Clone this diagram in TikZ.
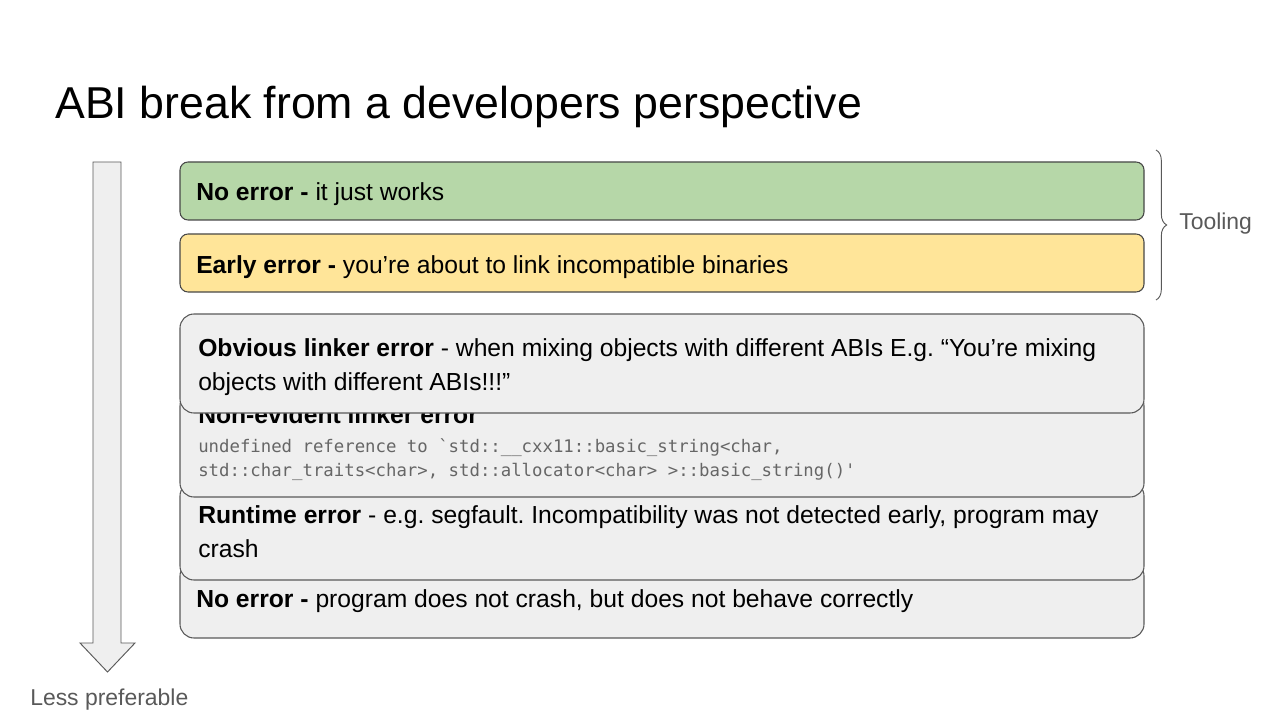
\documentclass[tikz,border=0pt]{standalone}
\usepackage{fontspec}
\setmainfont{Liberation Sans}
\setmonofont{DejaVu Sans Mono}
\usetikzlibrary{decorations.pathreplacing}
\frenchspacing

\definecolor{okgreen}{HTML}{B6D7A8}
\definecolor{warnyellow}{HTML}{FFE599}
\definecolor{boxgray}{HTML}{EFEFEF}
\definecolor{edgegray}{HTML}{595959}
\definecolor{codegray}{HTML}{666666}

\tikzset{
  smallbox/.style={draw=edgegray!80!black, line width=0.8pt, rounded corners=6pt},
  bigbox/.style={draw=edgegray, fill=boxgray, line width=0.8pt, rounded corners=10.5pt},
  boxtext/.style={anchor=base west, inner sep=0pt, font=\fontsize{18.5}{25.5}\selectfont},
  codetext/.style={anchor=base west, inner sep=0pt, text=codegray, font=\fontsize{13}{18}\selectfont\ttfamily},
  sidetext/.style={inner sep=0pt, text=edgegray, font=\fontsize{17.2}{20}\selectfont}
}

\begin{document}
\begin{tikzpicture}[x=0.75pt,y=-0.75pt]

\useasboundingbox (0,0) rectangle (1280,720);

\coordinate (T) at (55,119);
\coordinate (G1) at (180,162);
\coordinate (G2) at (1144,220);
\coordinate (Y1) at (180,234);
\coordinate (Y2) at (1144,292);
\coordinate (O1) at (180,314);
\coordinate (O2) at (1144,413);
\coordinate (N1) at (180,392);
\coordinate (N2) at (1144,497);
\coordinate (R1) at (180,482);
\coordinate (R2) at (1144,580);
\coordinate (S1) at (180,562);
\coordinate (S2) at (1144,638);
\coordinate (BT) at (1156,150);
\coordinate (BB) at (1156,300);

\node [anchor=base west, inner sep=0pt, font=\fontsize{33.5}{40}\selectfont] (title) at (T)
  {ABI break from a developers perspective};

% direction arrow
\draw [draw=edgegray, fill=boxgray, line width=0.7pt, line join=miter]
  (93,162) -- (121,162) -- (121,643) -- (135,643) -- (107.5,672) -- (80,643) -- (93,643) -- cycle;
\node [sidetext, anchor=base west] (less) at (30,705) {Less preferable};

% tooling
\draw [smallbox, fill=okgreen] (G1) rectangle (G2);
\node [boxtext] (noerr) at (196,201) {\textbf{No error -} it just works};
\draw [smallbox, fill=warnyellow] (Y1) rectangle (Y2);
\node [boxtext] (early) at (196,273) {\textbf{Early error -} you’re about to link incompatible binaries};
\draw [edgegray, line width=0.7pt, decorate, decoration={brace, amplitude=8pt}] (BT) -- (BB);
\node [sidetext, anchor=west] (tooling) at (1179,224) {Tooling};

% stacked boxes, lowest first
\draw [bigbox] (S1) rectangle (S2);
\node [boxtext] (silent) at (196,607) {\textbf{No error -} program does not crash, but does not behave correctly};

\draw [bigbox] (R1) rectangle (R2);
\node [boxtext] (run1) at (198,523) {\textbf{Runtime error} - e.g. segfault. Incompatibility was not detected early, program may};
\node [boxtext] (run2) at (198,557) {crash};

\draw [bigbox] (N1) rectangle (N2);
\node [boxtext] (nonev) at (198,423) {\textbf{Non-evident linker error}};
\node [codetext] (code1) at (198,452.5) {undefined reference to `std::\_\_cxx11::basic\_string<char,};
\node [codetext] (code2) at (198,476) {std::char\_traits<char>, std::allocator<char> >::basic\_string()'};

\draw [bigbox] (O1) rectangle (O2);
\node [boxtext] (obv1) at (198,356) {\textbf{Obvious linker error} - when mixing objects with different ABIs E.g. “You’re mixing};
\node [boxtext] (obv2) at (198,390) {objects with different ABIs!!!”};

\end{tikzpicture}
\end{document}
